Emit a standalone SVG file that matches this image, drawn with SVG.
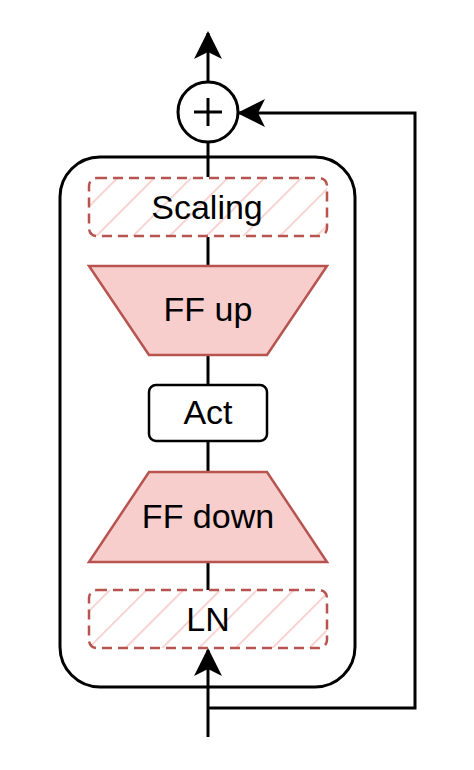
<svg xmlns="http://www.w3.org/2000/svg" width="474" height="770" viewBox="0 0 474 770">
<defs>
<pattern id="hatch" patternUnits="userSpaceOnUse" width="26" height="26" patternTransform="rotate(45)">
<rect width="26" height="26" fill="#ffffff"/>
<line x1="0" y1="0" x2="0" y2="26" stroke="#f8cecc" stroke-width="3.5"/>
</pattern>
<marker id="arr" viewBox="0 0 28 28" refX="26" refY="14" markerWidth="28" markerHeight="28" markerUnits="userSpaceOnUse" orient="auto">
<path d="M0,0 L28,14 L0,28 L7,14 Z" fill="#000"/>
</marker>
</defs>
<style>
.lbl{font-family:"Liberation Sans",Arial,sans-serif;font-size:34px;fill:#000;text-anchor:middle;dominant-baseline:central}
.dash{fill:url(#hatch);stroke:#b85450;stroke-width:2.5;stroke-dasharray:10 6}
.trap{fill:#f8cecc;stroke:#b85450;stroke-width:2.5}
.ln{stroke:#000;stroke-width:3;fill:none}
</style>
<g id="block">
<rect x="60" y="157" width="295" height="530" rx="40" fill="#fff" stroke="#000" stroke-width="3"/>
</g>
<g id="connectors">
<line class="ln" x1="208" y1="142" x2="208" y2="177"/>
<line class="ln" x1="208" y1="237" x2="208" y2="265"/>
<line class="ln" x1="208" y1="355" x2="208" y2="385"/>
<line class="ln" x1="208" y1="441" x2="208" y2="472"/>
<line class="ln" x1="208" y1="562" x2="208" y2="590"/>
<line class="ln" x1="208" y1="82" x2="208" y2="33" marker-end="url(#arr)"/>
<line class="ln" x1="208" y1="737" x2="208" y2="650" marker-end="url(#arr)"/>
<polyline class="ln" points="209,708 415,708 415,113 239,113" marker-end="url(#arr)"/>
</g>
<g id="plus">
<circle cx="208" cy="112" r="30" fill="#fff" stroke="#000" stroke-width="3"/>
<line class="ln" x1="194" y1="112" x2="222" y2="112" stroke-width="4"/>
<line class="ln" x1="208" y1="98" x2="208" y2="126" stroke-width="4"/>
</g>
<g id="scaling">
<rect class="dash" x="89" y="178" width="238" height="58" rx="8"/>
<text class="lbl" x="207" y="207">Scaling</text>
</g>
<g id="ffup">
<polygon class="trap" points="89,266 327,266 267,355 149,355"/>
<text class="lbl" x="208" y="309">FF up</text>
</g>
<g id="act">
<rect x="149" y="385" width="118" height="56" rx="7" fill="#fff" stroke="#000" stroke-width="2.5"/>
<text class="lbl" x="208" y="412">Act</text>
</g>
<g id="ffdown">
<polygon class="trap" points="149,472 267,472 327,562 89,562"/>
<text class="lbl" x="208" y="516">FF down</text>
</g>
<g id="ln">
<rect class="dash" x="89" y="590" width="238" height="58" rx="8"/>
<text class="lbl" x="208" y="619">LN</text>
</g>
</svg>
